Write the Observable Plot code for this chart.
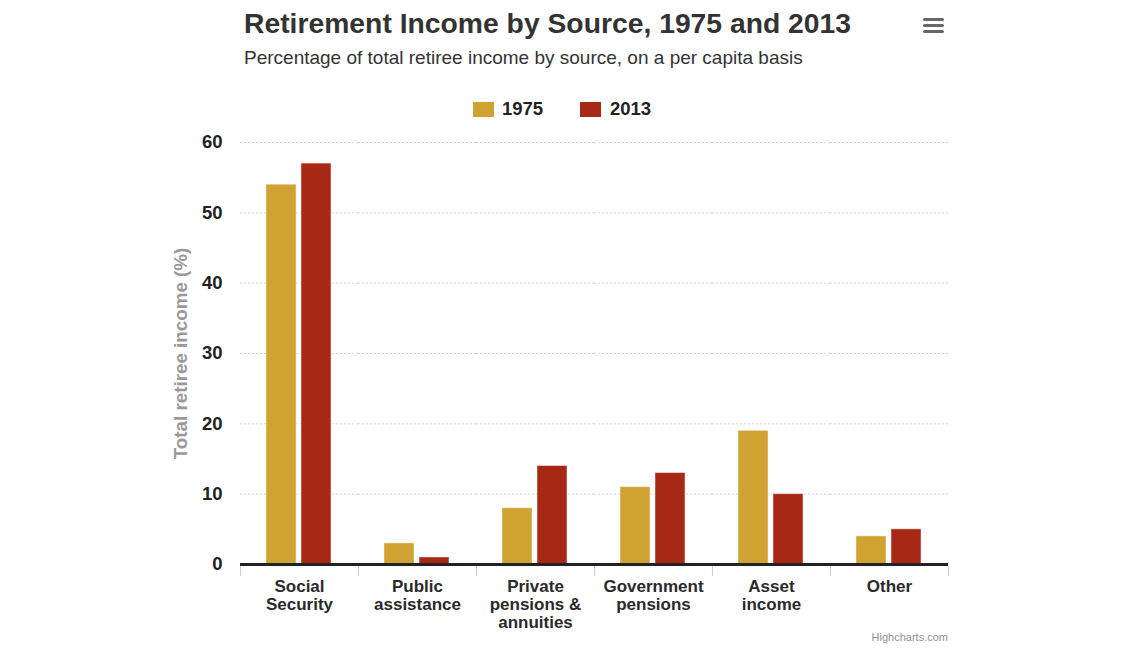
<!DOCTYPE html>
<html><head><meta charset="utf-8">
<script src="https://cdn.jsdelivr.net/npm/d3@7"></script>
<script src="https://cdn.jsdelivr.net/npm/@observablehq/plot@0.6"></script>
<style>
body{margin:0;background:#fff;width:1140px;height:655px;position:relative;overflow:hidden;font-family:"Liberation Sans",Arial,sans-serif;}
#title{position:absolute;left:244px;top:7px;font-size:28.3px;font-weight:bold;color:#333;white-space:nowrap;}
#subtitle{position:absolute;left:244px;top:47px;font-size:19px;color:#333;white-space:nowrap;}
.sw{position:absolute;top:102px;width:21px;height:15px;}
.lt{position:absolute;top:98px;font-size:18.5px;font-weight:bold;color:#222;}
#menu{position:absolute;left:923px;top:18px;width:21px;}
#menu div{height:3px;background:#666;border-radius:1.5px;margin-bottom:3px;}
#credits{position:absolute;right:192px;top:631px;font-size:11px;color:#909090;}
#chart{position:absolute;left:0;top:90px;}
</style>
</head><body>
<div id="title">Retirement Income by Source, 1975 and 2013</div>
<div id="subtitle">Percentage of total retiree income by source, on a per capita basis</div>
<div id="menu"><div></div><div></div><div></div></div>
<div id="legend"></div>
<div id="chart"></div>
<div id="credits">Highcharts.com</div>
<script>
const categories = ["Social Security","Public assistance","Private pensions & annuities","Government pensions","Asset income","Other"];
const categoryLabels = ["Social\nSecurity","Public\nassistance","Private\npensions &\nannuities","Government\npensions","Asset\nincome","Other"];
const years = ["1975","2013"];
const values1975 = [54,3,8,11,19,4];
const values2013 = [57,1,14,13,10,5];
const yTicks = [0,10,20,30,40,50,60];
const colors = ["#D0A232","#A62815"];

const rows = categories.flatMap((c,i)=>[
  {category:c, year:years[0], value:values1975[i]},
  {category:c, year:years[1], value:values2013[i]}
]);

// legend
const legend = document.getElementById("legend");
const legendPos = [{sw:473, t:502},{sw:580, t:610}];
years.forEach((y,i)=>{
  const s=document.createElement("div"); s.className="sw"; s.style.left=legendPos[i].sw+"px"; s.style.background=colors[i]; legend.appendChild(s);
  const t=document.createElement("div"); t.className="lt"; t.style.left=legendPos[i].t+"px"; t.textContent=y; legend.appendChild(t);
});

const chart = Plot.plot({
  width:1140, height:560,
  marginLeft:240, marginRight:192, marginTop:52, marginBottom:86,
  style:{fontFamily:"Liberation Sans, Arial, sans-serif", background:"transparent", overflow:"visible", color:"#222"},
  fx:{domain:categories, padding:0, label:null},
  x:{domain:years, paddingInner:0.14, paddingOuter:0.72, axis:null},
  y:{domain:[0,60]},
  color:{domain:years, range:colors},
  marks:[
    Plot.ruleY(yTicks.slice(1), {stroke:"#d4d4d4", strokeOpacity:1, strokeDasharray:"2,2"}),
    Plot.barY(rows, {fx:"category", x:"year", y:"value", fill:"year", stroke:"#fff", strokeOpacity:0.45, strokeWidth:1}),
    Plot.ruleY([0], {stroke:"#222", strokeWidth:3}),
    Plot.axisY({ticks:yTicks, tickSize:0, tickPadding:18, fontSize:18.5, fontWeight:"bold", label:"Total retiree income (%)", labelAnchor:"center", labelArrow:"none", labelOffset:67}),
    Plot.axisFx({anchor:"bottom", tickSize:0, tickPadding:15, fontSize:17, fontWeight:"bold", lineHeight:1.06, label:null, tickFormat:c=>categoryLabels[categories.indexOf(c)]})
  ]
});
document.getElementById("chart").appendChild(chart);

const svg = d3.select(chart);
svg.selectAll('[aria-label="y-axis label"] text').attr("fill","#999").attr("font-size",18.8).attr("font-weight","bold");
svg.selectAll('[aria-label="fx-axis tick label"] text').attr("fill","#2a2a2a");
// category boundary ticks
const fx = chart.scale("fx");
const yS = chart.scale("y");
const y0 = yS.apply(0);
const bounds = categories.map(c=>fx.apply(c)).concat([fx.apply(categories[categories.length-1]) + fx.bandwidth]);
svg.append("g").selectAll("line").data(bounds).join("line")
  .attr("x1",d=>d+0.5).attr("x2",d=>d+0.5).attr("y1",y0+2).attr("y2",y0+12)
  .attr("stroke","#C0D0E0").attr("stroke-width",1);
</script>
</body></html>
